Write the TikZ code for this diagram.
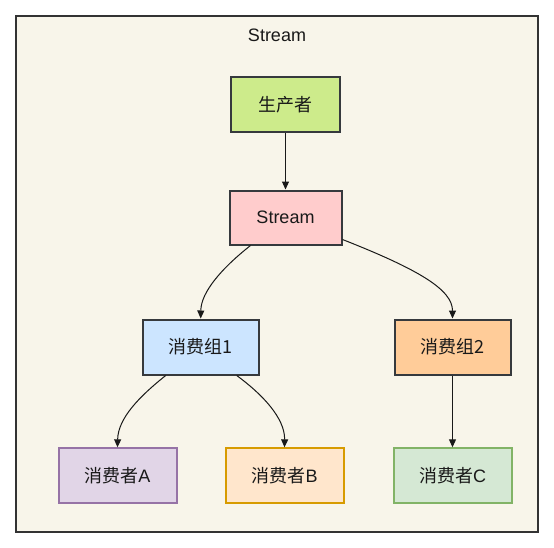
\documentclass[tikz,border=0pt]{standalone}
\usepackage{fontspec}
\setmainfont{Liberation Sans}
\newfontfamily\cjk{Noto Sans CJK SC}
\usetikzlibrary{arrows.meta,calc}
\definecolor{bgc}{HTML}{F8F5EA}
\definecolor{darkb}{HTML}{36393D}
\definecolor{cprod}{HTML}{CDEB8B}
\definecolor{cstream}{HTML}{FFCCCC}
\definecolor{cg1}{HTML}{CCE5FF}
\definecolor{cg2}{HTML}{FFCC99}
\definecolor{cA}{HTML}{E1D5E7}
\definecolor{bA}{HTML}{9673A6}
\definecolor{cB}{HTML}{FFE6CC}
\definecolor{bB}{HTML}{D79B00}
\definecolor{cC}{HTML}{D5E8D4}
\definecolor{bC}{HTML}{82B366}
\begin{document}
\begin{tikzpicture}[x=1pt,y=-1pt,
  box/.style={draw=darkb,line width=2pt,minimum height=55pt,inner sep=0pt,
    font=\fontsize{18}{21}\selectfont,text=black!90},
  conn/.style={draw=black!90,line width=1pt,-{Triangle[width=7pt,length=8pt]}}]
\useasboundingbox (0,0) rectangle (554,547);
\draw[fill=bgc,draw=black!80,line width=2pt] (15.5,15.5) rectangle (538,532);
\node[font=\fontsize{18}{21}\selectfont,text=black!90] (title) at (277,35) {Stream};
\node[box,fill=cprod,minimum width=109pt] (prod) at (285.5,104.5) {{\cjk 生产者}};
\node[box,fill=cstream,minimum width=112pt,minimum height=54pt] (stream) at (285.5,217.5) {Stream};
\node[box,fill=cg1,minimum width=116pt] (g1) at (200.7,347) {{\cjk 消费组1}};
\node[box,fill=cg2,minimum width=116pt] (g2) at (452.5,347) {{\cjk 消费组2}};
\node[box,fill=cA,draw=bA,minimum width=118pt] (A) at (117.5,475.8) {{\cjk 消费者}A};
\node[box,fill=cB,draw=bB,minimum width=118pt] (B) at (284.5,475.8) {{\cjk 消费者}B};
\node[box,fill=cC,draw=bC,minimum width=118pt] (C) at (452.5,475.8) {{\cjk 消费者}C};
\draw[conn] (prod) -- (stream);
\draw[conn] ([xshift=-35pt]stream.south) .. controls (222,268) and (201,292) .. (g1.north);
\draw[conn] ([yshift=-22pt]stream.east) .. controls (420,270) and (452.5,290) .. (g2.north);
\draw[conn] ([xshift=-35pt]g1.south) .. controls (140,396) and (118,418) .. (A.north);
\draw[conn] ([xshift=36pt]g1.south) .. controls (262,394) and (285,418) .. (B.north);
\draw[conn] (g2) -- (C);
\end{tikzpicture}
\end{document}
